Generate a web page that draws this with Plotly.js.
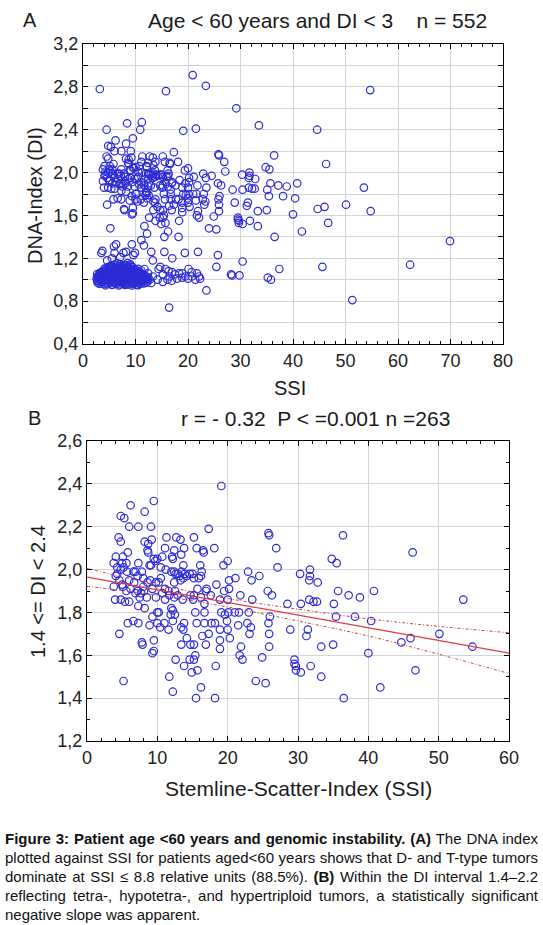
<!DOCTYPE html>
<html>
<head>
<meta charset="utf-8">
<script src="https://cdn.plot.ly/plotly-3.0.1.min.js"></script>
<style>
  html, body { margin: 0; padding: 0; background: #fff; }
  body { width: 543px; height: 925px; position: relative; overflow: hidden; }
  #chart { position: absolute; left: 0; top: 0; width: 543px; height: 810px; }
  #cap { position: absolute; left: 5px; top: 829px; width: 533px;
         font-family: "Liberation Sans", Arial, sans-serif; font-size: 15px;
         line-height: 19px; text-align: justify; color: #111; }
</style>
</head>
<body>
<div id="chart"></div>
<div id="cap"><b>Figure 3: Patient age &lt;60 years and genomic instability. (A)</b> The DNA index plotted against SSI for patients aged&lt;60 years shows that D- and T-type tumors dominate at SSI ≤ 8.8 relative units (88.5%). <b>(B)</b> Within the DI interval 1.4–2.2 reflecting tetra-, hypotetra-, and hypertriploid tumors, a statistically significant negative slope was apparent.</div>
<script>
// ---- Panel B points (SSI, DI) with 1.4 <= DI < 2.4 ----
const panelBPoints = [
[19.1,2.39],[9.5,2.32],[6.2,2.30],[8.2,2.27],[4.8,2.25],[5.3,2.24],[6.0,2.20],[7.3,2.20],[9.1,2.20],[17.3,2.19],
[25.8,2.17],[25.9,2.16],[36.4,2.16],[4.5,2.15],[4.8,2.13],[8.2,2.13],[9.2,2.14],[11.3,2.15],[12.7,2.15],[13.3,2.14],
[15.2,2.15],[15.6,2.10],[18.1,2.10],[26.9,2.10],[11.1,2.10],[12.4,2.09],[8.7,2.12],[5.8,2.08],[8.7,2.08],[16.6,2.08],
[46.3,2.08],[4.1,2.06],[5.1,2.06],[9.5,2.05],[10.0,2.05],[12.2,2.05],[13.4,2.07],[10.7,2.06],[34.8,2.05],[35.5,2.03],
[20.0,2.04],[19.4,2.02],[16.1,2.02],[3.8,2.03],[5.0,2.03],[5.6,2.03],[7.3,2.03],[8.9,2.02],[10.5,2.01],[13.7,2.02],
[27.1,2.01],[4.3,2.01],[4.8,2.00],[5.2,2.01],[5.7,1.99],[6.6,1.99],[6.9,1.99],[7.8,1.99],[12.0,1.99],[12.4,1.99],
[12.9,1.98],[13.4,1.99],[13.9,1.98],[14.6,1.98],[13.2,1.97],[13.7,1.96],[14.2,1.97],[16.3,1.99],[22.9,1.99],[24.5,1.97],
[23.4,1.95],[21.1,1.96],[20.2,1.95],[30.3,1.98],[31.7,2.00],[31.7,1.97],[31.6,1.95],[32.8,1.94],[15.2,1.96],[15.9,1.96],
[4.1,1.97],[4.3,1.98],[3.8,1.92],[4.6,1.95],[6.0,1.95],[9.0,1.95],[9.8,1.94],[10.2,1.94],[5.1,1.92],[5.6,1.90],
[6.2,1.91],[8.0,1.92],[9.3,1.91],[18.4,1.93],[11.1,1.91],[11.6,1.90],[12.5,1.90],[16.9,1.90],[19.5,1.90],[25.7,1.90],
[26.3,1.88],[21.8,1.88],[35.7,1.90],[37.2,1.88],[38.8,1.87],[40.8,1.90],[6.9,1.89],[7.7,1.89],[10.7,1.89],[11.7,1.88],
[12.9,1.88],[15.2,1.88],[4.0,1.86],[4.8,1.86],[5.4,1.85],[6.0,1.85],[7.5,1.87],[8.5,1.87],[9.8,1.87],[11.1,1.86],
[13.6,1.86],[15.1,1.86],[18.9,1.86],[20.0,1.86],[23.5,1.86],[31.6,1.86],[32.2,1.85],[32.7,1.85],[53.5,1.86],[16.7,1.84],
[28.5,1.84],[30.4,1.84],[35.1,1.84],[7.3,1.83],[8.2,1.82],[12.0,1.82],[12.2,1.81],[15.4,1.80],[16.7,1.80],[10.0,1.80],
[10.2,1.80],[19.1,1.80],[19.6,1.79],[20.1,1.80],[21.0,1.80],[21.6,1.80],[23.0,1.80],[12.5,1.79],[35.4,1.78],[38.1,1.78],
[26.0,1.78],[9.3,1.78],[12.2,1.76],[6.6,1.76],[5.8,1.75],[7.3,1.75],[10.0,1.75],[11.0,1.75],[13.8,1.75],[15.6,1.75],
[16.7,1.75],[17.7,1.75],[18.2,1.75],[19.9,1.76],[40.4,1.76],[22.8,1.75],[25.8,1.75],[8.9,1.74],[10.4,1.73],[11.6,1.72],
[13.4,1.73],[21.5,1.74],[23.3,1.73],[28.9,1.72],[31.4,1.72],[18.9,1.72],[20.0,1.72],[4.6,1.70],[16.4,1.69],[17.3,1.70],
[23.1,1.70],[25.9,1.70],[31.2,1.69],[50.1,1.70],[20.3,1.68],[14.2,1.68],[9.5,1.67],[18.9,1.67],[46.0,1.68],[44.7,1.66],
[7.8,1.66],[7.9,1.65],[13.4,1.65],[15.2,1.65],[16.9,1.65],[35.0,1.65],[54.8,1.64],[33.3,1.64],[21.9,1.64],[25.9,1.64],
[18.9,1.63],[9.5,1.62],[9.3,1.61],[21.7,1.60],[22.1,1.58],[15.4,1.60],[15.2,1.58],[14.6,1.58],[40.0,1.61],[12.6,1.58],
[24.9,1.59],[29.5,1.58],[29.5,1.56],[29.7,1.55],[29.7,1.53],[30.4,1.52],[13.8,1.55],[18.3,1.55],[31.8,1.55],[15.7,1.53],
[14.9,1.52],[46.7,1.53],[11.7,1.50],[33.3,1.50],[5.2,1.48],[24.0,1.48],[25.4,1.47],[16.2,1.45],[41.7,1.45],[12.2,1.43],
[15.5,1.40],[18.2,1.40],[36.5,1.40],[13.8,2.10],[16.5,2.09],[8.6,2.09],[12.1,2.06],[9.1,2.02],[9.7,2.04],[11.2,2.00],
[12.6,1.98],[15.0,1.98],[16.2,1.97],[7.2,1.97],[8.0,1.96],[10.5,1.96],[12.4,1.94],[13.3,1.95],[6.7,1.94],[5.0,1.93],
[8.6,1.94],[17.0,1.91],[7.2,1.90],[8.1,1.90],[14.7,1.88],[15.7,1.91],[20.2,1.91],[12.4,1.87],[16.2,1.87],[17.6,1.88],
[11.9,1.79],[14.7,1.65],[13.7,1.72]
];

// ---- Panel A points outside 1.4 <= DI < 2.4 (panel A = panel B points + these) ----
const panelAOtherPoints = [
// DI >= 2.4
[3.2,2.78],[15.8,2.76],[20.9,2.91],[23.4,2.81],[29.2,2.60],[54.7,2.77],[4.5,2.40],[8.4,2.46],[10.9,2.40],[11.2,2.47],
[21.5,2.41],[33.5,2.44],[44.6,2.40],
// DI 1.15 - 1.4
[3.7,1.27],[3.5,1.25],[6.3,1.33],[9.3,1.33],[11.1,1.37],[11.6,1.32],[13.0,1.26],[15.5,1.26],[17.0,1.20],[19.4,1.25],
[21.9,1.26],[8.2,1.26],[6.0,1.25],[7.7,1.25],[4.6,1.18],[5.5,1.20],[7.1,1.21],[9.6,1.23],[9.9,1.25],[13.3,1.18],
[5.9,1.31],[25.7,1.23],[30.4,1.17],[69.9,1.36],
// tail and scattered low points
[14.7,1.12],[15.7,1.10],[16.3,1.08],[17.0,1.07],[18.3,1.06],[18.9,1.06],[20.1,1.10],[20.7,1.07],[21.7,1.06],[22.3,1.01],
[13.3,1.03],[14.2,1.00],[15.2,1.05],[16.1,1.00],[16.5,1.03],[17.5,1.05],[17.9,1.01],[18.9,1.02],[19.5,1.03],[20.0,1.01],
[20.7,1.03],[21.4,1.00],[22.1,1.03],[15.2,0.98],[16.9,0.99],[12.4,1.06],[12.7,1.00],[13.0,0.97],[11.7,1.10],[14.4,1.10],
[23.5,0.90],[16.4,0.74],[25.4,1.12],[28.2,1.05],[28.4,1.04],[29.8,1.04],[35.2,1.02],[35.8,1.00],[37.4,1.10],[45.6,1.12],
[51.3,0.81],[62.3,1.14],
// dense diploid cluster
[3.1,0.962],[4.0,0.958],[4.8,0.965],[5.6,0.955],[6.3,0.961],[7.0,0.957],[7.9,0.964],[8.6,0.956],[9.4,0.96],[10.1,0.953],[10.9,0.962],[11.6,0.966],
[2.8,0.972],[3.6,0.975],[4.4,0.968],[5.2,0.974],[6.0,0.97],[6.7,0.977],[7.5,0.969],[8.2,0.973],[9.0,0.976],[9.8,0.971],[10.5,0.968],[11.3,0.975],[12.1,0.972],
[3.0,0.983],[3.9,0.981],[4.6,0.986],[5.4,0.979],[6.2,0.984],[6.9,0.98],[7.7,0.987],[8.5,0.982],[9.2,0.978],[10.0,0.985],[10.7,0.981],[11.5,0.988],[12.3,0.983],
[2.7,0.992],[3.4,0.995],[4.2,0.99],[5.0,0.994],[5.8,0.989],[6.5,0.996],[7.3,0.991],[8.0,0.993],[8.8,0.997],[9.6,0.99],[10.3,0.994],[11.1,0.991],[11.9,0.996],
[2.9,1.003],[3.7,1.0],[4.5,1.005],[5.3,0.999],[6.1,1.004],[6.8,1.001],[7.6,1.006],[8.4,0.998],[9.1,1.002],[9.9,1.005],[10.6,0.999],[11.4,1.003],[12.2,1.006],
[2.6,1.012],[3.3,1.009],[4.1,1.014],[4.9,1.01],[5.7,1.016],[6.4,1.011],[7.2,1.008],[8.0,1.013],[8.7,1.017],[9.5,1.01],[10.2,1.014],[11.0,1.009],[11.8,1.015],
[3.0,1.022],[3.8,1.026],[4.6,1.019],[5.4,1.024],[6.2,1.021],[7.0,1.027],[7.8,1.02],[8.5,1.025],[9.3,1.018],[10.0,1.023],[10.8,1.026],[11.6,1.021],[12.4,1.019],
[2.8,1.031],[3.5,1.035],[4.3,1.029],[5.1,1.034],[5.9,1.03],[6.6,1.036],[7.4,1.032],[8.2,1.028],[8.9,1.033],[9.7,1.037],[10.5,1.03],[11.2,1.034],[12.0,1.029],
[3.1,1.043],[3.9,1.039],[4.7,1.045],[5.5,1.041],[6.3,1.046],[7.1,1.04],[7.9,1.044],[8.6,1.038],[9.4,1.042],[10.1,1.047],[10.9,1.041],[11.7,1.044],
[2.7,1.052],[3.6,1.049],[4.4,1.055],[5.2,1.05],[6.0,1.054],[6.7,1.048],[7.5,1.053],[8.3,1.051],[9.0,1.056],[9.8,1.05],[10.6,1.054],[11.3,1.049],
[3.2,1.062],[4.0,1.058],[4.8,1.064],[5.6,1.06],[6.4,1.065],[7.2,1.059],[8.0,1.063],[8.7,1.061],[9.5,1.066],[10.3,1.06],[11.0,1.064],
[3.5,1.071],[4.3,1.075],[5.1,1.069],[5.9,1.074],[6.6,1.07],[7.4,1.076],[8.2,1.072],[9.0,1.068],[9.8,1.073],[10.6,1.077],
[3.9,1.082],[4.7,1.079],[5.5,1.085],[6.2,1.081],[7.0,1.086],[7.8,1.08],[8.6,1.084],[9.4,1.078],[10.2,1.083],[11.1,1.086],
[4.4,1.092],[5.2,1.095],[6.0,1.089],[6.8,1.094],[7.6,1.09],[8.4,1.096],[9.2,1.091],[10.0,1.093],
[4.1,1.103],[5.0,1.099],[5.8,1.105],[6.5,1.101],[7.3,1.106],[8.1,1.1],[8.9,1.104],[9.7,1.098],[10.5,1.102],
[4.6,1.112],[5.5,1.115],[6.3,1.109],[7.1,1.114],[8.0,1.11],[8.8,1.116],
[5.0,1.122],[5.9,1.119],[6.7,1.125],[7.6,1.121],[8.5,1.124],[9.4,1.118],
[5.4,1.132],[6.4,1.135],[7.3,1.129],[8.2,1.134],[9.1,1.131],
[6.0,1.142],[7.0,1.145],[8.0,1.139],[9.0,1.143],
[6.5,1.152],[8.5,1.155],
[4.3,0.948],[5.5,0.951],[6.8,0.946],[8.0,0.952],[9.3,0.947],[10.5,0.95]
];

// ---- Regression line and confidence band (panel B) ----
const fitSSI   = [0, 10, 20, 30, 40, 50, 60];
const fitDI    = [1.965, 1.906, 1.847, 1.788, 1.729, 1.670, 1.610];
const fitUpper = [2.005, 1.930, 1.865, 1.815, 1.770, 1.735, 1.705];
const fitLower = [1.922, 1.880, 1.825, 1.760, 1.690, 1.605, 1.515];

// ---- Texts ----
const titleA = "Age < 60 years and DI < 3    n = 552";
const titleB = "r = - 0.32  P < =0.001 n =263";
const xTitleA = "SSI", yTitleA = "DNA-Index (DI)";
const xTitleB = "Stemline-Scatter-Index (SSI)", yTitleB = "1.4 <= DI < 2.4";

const FONT = "Liberation Sans, Arial, sans-serif";
const W = 543, H = 810;
const px = v => v / W, py = v => 1 - v / H;

const allA = panelBPoints.concat(panelAOtherPoints);
const markerStyle = { symbol: "circle-open", size: 7.5, color: "#2b2bd6", line: { width: 1.2, color: "#2b2bd6" } };

const traces = [
  { type: "scatter", mode: "markers", x: allA.map(p => p[0]), y: allA.map(p => p[1]),
    xaxis: "x", yaxis: "y", marker: markerStyle, hoverinfo: "x+y" },
  { type: "scatter", mode: "markers", x: panelBPoints.map(p => p[0]), y: panelBPoints.map(p => p[1]),
    xaxis: "x2", yaxis: "y2", marker: markerStyle, hoverinfo: "x+y" },
  { type: "scatter", mode: "lines", x: fitSSI, y: fitDI, xaxis: "x2", yaxis: "y2",
    line: { color: "#e23a3a", width: 1.2 }, hoverinfo: "skip" },
  { type: "scatter", mode: "lines", x: fitSSI, y: fitUpper, xaxis: "x2", yaxis: "y2",
    line: { color: "#c8463c", width: 1, dash: "3px,2px,1px,2px", shape: "spline" }, hoverinfo: "skip" },
  { type: "scatter", mode: "lines", x: fitSSI, y: fitLower, xaxis: "x2", yaxis: "y2",
    line: { color: "#c8463c", width: 1, dash: "3px,2px,1px,2px", shape: "spline" }, hoverinfo: "skip" }
];

const tickFont = { family: FONT, size: 18, color: "#222" };
function axisBase(extra) {
  return Object.assign({
    showline: true, linecolor: "#000", linewidth: 1.2, mirror: "allticks",
    ticks: "inside", ticklen: 5, tickwidth: 1, tickcolor: "#000",
    showgrid: true, gridcolor: "#d4d4d4", gridwidth: 1, zeroline: false,
    tickfont: tickFont, fixedrange: true
  }, extra);
}

function label(text, x, y, size, angle) {
  return { text: text, x: px(x), y: py(y), xref: "paper", yref: "paper", showarrow: false,
           xanchor: "center", yanchor: "middle", textangle: angle || 0,
           font: { family: FONT, size: size, color: "#1a1a1a" } };
}

const layout = {
  width: W, height: H, margin: { l: 0, r: 0, t: 0, b: 0 },
  paper_bgcolor: "#fff", plot_bgcolor: "#fff", showlegend: false,
  separators: ", ",
  xaxis: axisBase({ domain: [px(83), px(503)], range: [0, 80], dtick: 10, tick0: 0, anchor: "y",
    minor: { ticks: "inside", ticklen: 3, dtick: 2, tickcolor: "#000", showgrid: false } }),
  yaxis: axisBase({ domain: [py(344), py(44)], range: [0.4, 3.2], dtick: 0.4, tick0: 0.4, tickformat: ".1f", anchor: "x",
    minor: { ticks: "inside", ticklen: 5, dtick: 0.2, tickcolor: "#000", showgrid: true, gridcolor: "#d4d4d4" } }),
  xaxis2: axisBase({ domain: [px(87), px(509)], range: [0, 60], dtick: 10, tick0: 0, anchor: "y2",
    minor: { ticks: "inside", ticklen: 3, dtick: 2, tickcolor: "#000", showgrid: false } }),
  yaxis2: axisBase({ domain: [py(741), py(441)], range: [1.2, 2.6], dtick: 0.2, tick0: 1.2, tickformat: ".1f", anchor: "x2",
    minor: { ticks: "inside", ticklen: 3, dtick: 0.1, tickcolor: "#000", showgrid: false } }),
  annotations: [
    label("A", 30, 20, 20),
    label(titleA, 317, 20, 21),
    label(yTitleA, 35, 196, 20, -90),
    label(xTitleA, 290, 388, 20),
    label("B", 34, 418, 20),
    label(titleB, 315, 418, 21),
    label(yTitleB, 38, 592, 20, -90),
    label(xTitleB, 298, 788, 21)
  ]
};

Plotly.newPlot("chart", traces, layout, { staticPlot: true, displayModeBar: false });
</script>
</body>
</html>
